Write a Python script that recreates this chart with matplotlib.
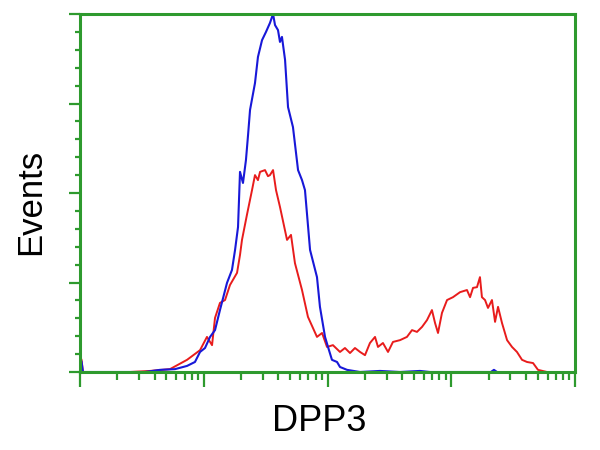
import matplotlib
matplotlib.use("Agg")
import matplotlib.pyplot as plt
import numpy as np
from matplotlib.ticker import FixedLocator, NullFormatter, LogLocator

# Data: x in log10(intensity) decades, y as % of max events
blue_logx = [0.0, 0.012, 0.024, 0.525, 0.646, 0.768, 0.865, 0.929, 0.970, 1.010, 1.051, 1.091,
             1.131, 1.188, 1.228, 1.253, 1.277, 1.293, 1.317, 1.341, 1.358, 1.374, 1.414,
             1.438, 1.471, 1.503, 1.535, 1.560, 1.576, 1.600, 1.616, 1.632, 1.657, 1.681,
             1.721, 1.762, 1.794, 1.818, 1.859, 1.915, 1.939, 1.980, 2.012, 2.036, 2.077,
             2.101, 2.158, 2.263, 2.424, 2.586, 2.747, 2.828, 3.320, 3.345, 3.370]
blue_y = [3.4, 3.0, 0.0, 0.0, 0.6, 0.8, 1.7, 2.8, 5.6, 6.7, 9.8, 11.7,
          17.3, 24.9, 28.5, 34.1, 40.5, 55.9, 52.8, 59.2, 66.2, 73.2, 80.7,
          88.0, 92.7, 95.0, 97.5, 100.0, 96.9, 95.5, 92.2, 93.6, 87.2, 74.0,
          68.4, 56.4, 53.6, 50.8, 34.1, 26.5, 18.2, 9.8, 6.1, 3.4, 2.8,
          1.4, 0.6, 0.0, 0.3, 0.0, 0.3, 0.0, 0.0, 0.6, 0.0]

red_logx = [0.0, 0.012, 0.024, 0.404, 0.566, 0.727, 0.865, 0.970, 1.026, 1.067, 1.091, 1.131,
            1.172, 1.212, 1.269, 1.293, 1.309, 1.349, 1.390, 1.414, 1.438, 1.455, 1.495,
            1.519, 1.535, 1.560, 1.584, 1.616, 1.673, 1.705, 1.737, 1.794, 1.842, 1.915,
            1.956, 1.996, 2.044, 2.101, 2.141, 2.182, 2.222, 2.263, 2.303, 2.343, 2.384,
            2.408, 2.448, 2.489, 2.529, 2.586, 2.642, 2.683, 2.723, 2.764, 2.804, 2.844,
            2.869, 2.893, 2.925, 2.966, 3.014, 3.071, 3.127, 3.152, 3.176, 3.208, 3.232,
            3.248, 3.273, 3.297, 3.329, 3.354, 3.378, 3.410, 3.451, 3.491, 3.531, 3.572,
            3.612, 3.661, 3.701, 3.774]
red_y = [3.9, 3.5, 0.0, 0.0, 0.3, 0.8, 3.4, 6.1, 9.8, 7.5, 15.1, 19.3,
         20.1, 24.3, 27.7, 32.7, 36.9, 43.9, 50.8, 55.0, 53.6, 55.9, 56.4,
         54.7, 55.0, 56.4, 50.8, 46.1, 36.9, 38.3, 30.4, 22.9, 15.4, 9.8,
         10.9, 7.0, 7.5, 5.6, 6.7, 5.3, 6.7, 5.6, 4.7, 8.1, 9.8,
         7.0, 8.1, 5.6, 8.4, 8.9, 9.8, 11.7, 11.2, 12.6, 14.5, 17.3,
         13.7, 10.9, 16.5, 20.1, 20.9, 22.3, 22.9, 20.9, 23.5, 23.7, 26.5,
         20.9, 20.1, 17.9, 20.1, 14.0, 18.2, 13.7, 8.9, 7.0, 5.6, 3.4,
         2.8, 2.5, 0.6, 0.0]

x_label = "DPP3"
y_label = "Events"

GREEN = "#2e9a2e"
BLUE = "#1818d8"
RED = "#e81c1c"

fig = plt.figure(figsize=(6, 4.5), dpi=100)
ax = fig.add_axes([80/600, 1 - 372/450, 495/600, (372 - 14)/450])

ax.plot(10 ** np.array(red_logx), red_y, color=RED, lw=1.4, zorder=2)
ax.plot(10 ** np.array(blue_logx), blue_y, color=BLUE, lw=1.5, zorder=2.1)

ax.set_xscale("log")
ax.set_xlim(1, 1e4)
ax.set_ylim(0, 100)

ax.xaxis.set_major_locator(FixedLocator([1, 10, 100, 1000, 10000]))
ax.xaxis.set_minor_locator(LogLocator(base=10, subs=np.arange(2, 10)))
ax.xaxis.set_major_formatter(NullFormatter())
ax.xaxis.set_minor_formatter(NullFormatter())
ax.yaxis.set_major_locator(FixedLocator([0, 25, 50, 75, 100]))
ax.yaxis.set_minor_locator(FixedLocator(np.arange(0, 101, 5)))
ax.yaxis.set_major_formatter(NullFormatter())

for s in ax.spines.values():
    s.set_color(GREEN)
    s.set_linewidth(2.2)

ax.tick_params(axis="x", which="major", direction="out", length=11, width=1.6, color=GREEN)
ax.tick_params(axis="x", which="minor", direction="out", length=5.5, width=1.6, color=GREEN)
ax.tick_params(axis="y", which="major", direction="out", length=8, width=1.6, color=GREEN)
ax.tick_params(axis="y", which="minor", direction="out", length=3.5, width=1.6, color=GREEN)
ax.tick_params(top=False, right=False)

ax.set_xlabel(x_label, family=["Liberation Sans"], fontsize=26, color="black")
ax.xaxis.set_label_coords(0.483, -0.09, transform=ax.transAxes)
ax.xaxis.label.set_va("top")
ax.set_ylabel(y_label, family=["Liberation Sans"], fontsize=25, color="black")
ax.yaxis.set_label_coords(-0.066, 0.475, transform=ax.transAxes)

fig.savefig("out.png", dpi=100)
